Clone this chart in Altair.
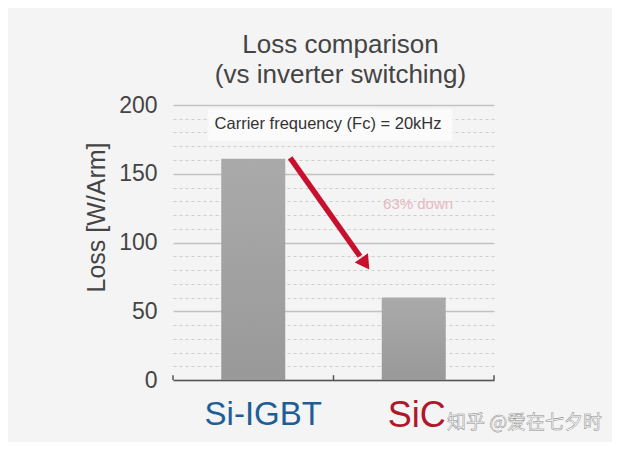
import altair as alt
import pandas as pd

# ---- data -------------------------------------------------------------
categories = ["Si-IGBT", "SiC"]
loss_values = [161, 60]
y_ticks = list(range(0, 201, 10))

title_lines = ["Loss comparison", "(vs inverter switching)"]
y_title = "Loss [W/Arm]"
carrier_text = ["Carrier frequency (Fc) = 20kHz"]
reduction_text = ["63% down"]
watermark_text = ["知乎 @爱在七夕时"]

# annotation anchors: x on a 0..2 "slot" scale (one unit per category), y in W/Arm
slot_edges = [0, 1, 2]
edge_tick_top = [3.5, 3.5, 3.5]
arrow_x = [0.73, 1.165]
arrow_y = [161.5, 90]
head_x = [1.19]
head_y = [86]
box_x = [0.22, 1.74]
box_y = [174, 197]
carrier_x = [0.966]
carrier_y = [186]
reduction_x = [1.527]
reduction_y = [128]
watermark_x = [2.19]
watermark_y = [-31]

FONT = "Liberation Sans"
RED = "#c8102e"
BG = "#f4f4f4"

bar_df = pd.DataFrame({"category": categories, "loss": loss_values})
edge_df = pd.DataFrame({"x": slot_edges, "y0": [0] * len(slot_edges), "y1": edge_tick_top})
arrow_df = pd.DataFrame({"x": [arrow_x[0]], "x2": [arrow_x[1]], "y": [arrow_y[0]], "y2": [arrow_y[1]]})
head_df = pd.DataFrame({"x": head_x, "y": head_y})
box_df = pd.DataFrame({"x": [box_x[0]], "x2": [box_x[1]], "y": [box_y[0]], "y2": [box_y[1]]})
carrier_df = pd.DataFrame({"x": carrier_x, "y": carrier_y, "t": carrier_text})
reduction_df = pd.DataFrame({"x": reduction_x, "y": reduction_y, "t": reduction_text})
watermark_df = pd.DataFrame({"x": watermark_x, "y": watermark_y, "t": watermark_text})

yscale = alt.Scale(domain=[0, 200], nice=False)
slot_scale = alt.Scale(domain=[0, 2], nice=False, zero=False)
is_major = "datum.value % 50 === 0"

y_axis = alt.Axis(
    values=y_ticks,
    labelExpr="datum.value % 50 === 0 ? datum.label : ''",
    labelOverlap=False,
    labelFont=FONT,
    labelFontSize=23,
    labelColor="#444444",
    labelPadding=16,
    ticks=False,
    tickSize=0,
    domain=False,
    grid=True,
    gridColor=alt.condition(is_major, alt.value("#c2c2c2"), alt.value("#cdcdcd")),
    gridWidth=alt.condition(is_major, alt.value(1.6), alt.value(1)),
    gridDash=alt.condition(is_major, alt.value([1, 0]), alt.value([3, 3])),
    title=y_title,
    titleFont=FONT,
    titleFontSize=25,
    titleFontWeight="normal",
    titleColor="#444444",
    titleAngle=270,
    titleX=-69,
    titleY=112,
    titleAlign="center",
    titleBaseline="alphabetic",
)

bar_fill = alt.Gradient(
    gradient="linear",
    stops=[alt.GradientStop(color="#aaaaaa", offset=0), alt.GradientStop(color="#999999", offset=1)],
    x1=0, x2=0, y1=0, y2=1,
)

bars = alt.Chart(bar_df).mark_bar(size=64, color=bar_fill).encode(
    x=alt.X(
        "category:N",
        sort=categories,
        scale=alt.Scale(paddingInner=0, paddingOuter=0),
        axis=alt.Axis(
            title=None,
            labelAngle=0,
            labelFont=FONT,
            labelFontSize=alt.condition("datum.value == 'SiC'", alt.value(36), alt.value(33)),
            labelColor=alt.condition("datum.value == 'SiC'", alt.value("#b0172b"), alt.value("#1d5e99")),
            labelOffset=alt.condition("datum.value == 'SiC'", alt.value(3), alt.value(10)),
            labelPadding=18,
            labelOverlap=False,
            ticks=False,
            tickSize=0,
            domain=True,
            domainColor="#555555",
            domainWidth=1.5,
            grid=False,
        ),
    ),
    y=alt.Y("loss:Q", scale=yscale, axis=y_axis),
)

ann_x = lambda f: alt.X(f, type="quantitative", scale=slot_scale, axis=None)
ann_y = lambda f: alt.Y(f, type="quantitative", scale=yscale, axis=y_axis)

edges = alt.Chart(edge_df).mark_rule(color="#555555", strokeWidth=1.5).encode(
    x=ann_x("x"), y=ann_y("y0"), y2="y1:Q"
)

box = alt.Chart(box_df).mark_rect(color="#fbfbfb").encode(
    x=ann_x("x"), x2="x2:Q", y=ann_y("y"), y2="y2:Q"
)

carrier = alt.Chart(carrier_df).mark_text(font=FONT, fontSize=16.5, color="#333333").encode(
    x=ann_x("x"), y=ann_y("y"), text="t:N"
)

reduction = alt.Chart(reduction_df).mark_text(font=FONT, fontSize=15, color="#e6b9c1").encode(
    x=ann_x("x"), y=ann_y("y"), text="t:N"
)

arrow = alt.Chart(arrow_df).mark_rule(color=RED, strokeWidth=5.5, strokeCap="butt").encode(
    x=ann_x("x"), x2="x2:Q", y=ann_y("y"), y2="y2:Q"
)

head = alt.Chart(head_df).mark_point(
    shape="triangle", filled=True, size=260, angle=145, color=RED, opacity=1
).encode(x=ann_x("x"), y=ann_y("y"))

watermark = alt.Chart(watermark_df).mark_text(
    font="Noto Sans CJK SC", fontSize=19, color="#fbfbfb", stroke="#8c8c8c", strokeWidth=0.5
).encode(x=ann_x("x"), y=ann_y("y"), text="t:N")

chart = (
    alt.layer(bars, edges, box, carrier, reduction, arrow, head, watermark)
    .resolve_scale(x="independent")
    .properties(
        width=321,
        height=275,
        padding={"left": 165, "top": 97, "right": 118, "bottom": 62},
        autosize=alt.AutoSizeParams(type="none"),
        title=alt.TitleParams(
            text=title_lines,
            font=FONT,
            fontSize=26,
            fontWeight="normal",
            color="#444444",
            anchor="middle",
            offset=6,
            lineHeight=30,
            dx=7,
        ),
    )
    .configure(background=BG)
    .configure_view(stroke=None)
)

chart.save("out.html", embed_options={"renderer": "svg", "actions": False})
